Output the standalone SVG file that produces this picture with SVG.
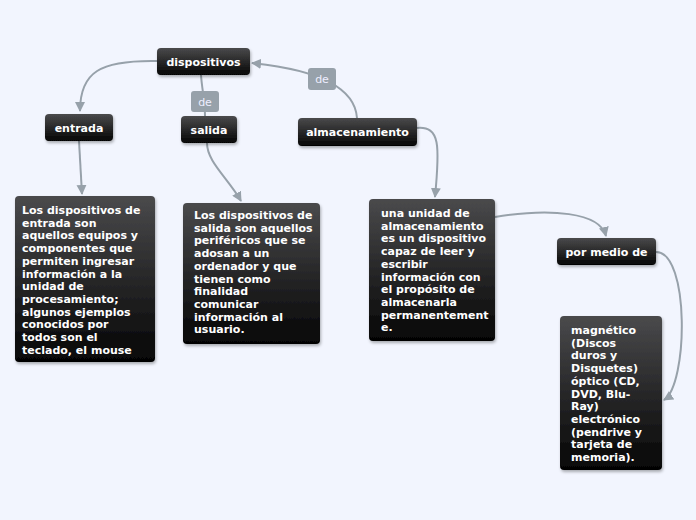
<svg xmlns="http://www.w3.org/2000/svg" width="696" height="520" viewBox="0 0 696 520">
<defs>
<linearGradient id="g" x1="0" y1="0" x2="0" y2="1"><stop offset="0" stop-color="#4a4a4c"/><stop offset="1" stop-color="#050505"/></linearGradient>
<filter id="s" x="-10%" y="-10%" width="130%" height="140%"><feDropShadow dx="1" dy="2" stdDeviation="1.5" flood-color="#000" flood-opacity="0.3"/></filter>
<marker id="a" viewBox="0 0 10 10" refX="9" refY="5" markerWidth="5" markerHeight="5" orient="auto"><path d="M0,0 L10,5 L0,10 z" fill="#97a1aa"/></marker>
</defs>
<style>
rect.n{fill:url(#g);filter:url(#s)}
text{font-family:"DejaVu Sans",sans-serif;font-weight:bold;font-size:11px;fill:#fff}
.c{fill:none;stroke:#97a1aa;stroke-width:2}
.l{fill:#97a1aa}
.lt{font-weight:normal;fill:#eef;font-size:11px}
</style>
<rect width="696" height="520" fill="#f2f5fe"/>
<g id="connectors">
<path class="c" d="M157,61 C100,60 80,72 80,111" marker-end="url(#a)"/>
<path class="c" d="M79,141 L82,194" marker-end="url(#a)"/>
<path class="c" d="M201,75 C202,90 205,100 205,116"/>
<path class="c" d="M207,143 C207,162 228,178 241,201" marker-end="url(#a)"/>
<path class="c" d="M357,118 C355,88 320,70 252,63" marker-end="url(#a)"/>
<path class="c" d="M417,128 C440,126 440,145 435,197" marker-end="url(#a)"/>
<path class="c" d="M495,217 C550,208 600,212 606,236" marker-end="url(#a)"/>
<path class="c" d="M656,252 C690,252 688,385 664,400" marker-end="url(#a)"/>
<rect class="l" x="191" y="91" width="28" height="21" rx="3"/>
<text class="lt" x="205" y="106" text-anchor="middle">de</text>
<rect class="l" x="308" y="68" width="28" height="22" rx="3"/>
<text class="lt" x="322" y="83" text-anchor="middle">de</text>
</g>
<g id="dispositivos"><rect class="n" x="157" y="48" width="93" height="27" rx="4"/><text x="203.5" y="66" text-anchor="middle">dispositivos</text></g>
<g id="entrada"><rect class="n" x="45" y="114" width="68" height="27" rx="4"/><text x="79" y="132" text-anchor="middle">entrada</text></g>
<g id="salida"><rect class="n" x="181" y="116" width="56" height="27" rx="4"/><text x="209" y="134" text-anchor="middle">salida</text></g>
<g id="almacenamiento"><rect class="n" x="298" y="118" width="119" height="28" rx="4"/><text x="357.5" y="136" text-anchor="middle">almacenamiento</text></g>
<g id="entrada-desc"><rect class="n" x="15" y="196" width="140" height="166" rx="4"/>
<text x="22" y="214"><tspan x="22">Los dispositivos de</tspan><tspan x="22" dy="12.7">entrada son</tspan><tspan x="22" dy="12.7">aquellos equipos y</tspan><tspan x="22" dy="12.7">componentes que</tspan><tspan x="22" dy="12.7">permiten ingresar</tspan><tspan x="22" dy="12.7">información a la</tspan><tspan x="22" dy="12.7">unidad de</tspan><tspan x="22" dy="12.7">procesamiento;</tspan><tspan x="22" dy="12.7">algunos ejemplos</tspan><tspan x="22" dy="12.7">conocidos por</tspan><tspan x="22" dy="12.7">todos son el</tspan><tspan x="22" dy="12.7">teclado, el mouse</tspan></text></g>
<g id="salida-desc"><rect class="n" x="183" y="203" width="137" height="141" rx="4"/>
<text x="194" y="219"><tspan x="194">Los dispositivos de</tspan><tspan x="194" dy="12.7">salida son aquellos</tspan><tspan x="194" dy="12.7">periféricos que se</tspan><tspan x="194" dy="12.7">adosan a un</tspan><tspan x="194" dy="12.7">ordenador y que</tspan><tspan x="194" dy="12.7">tienen como</tspan><tspan x="194" dy="12.7">finalidad</tspan><tspan x="194" dy="12.7">comunicar</tspan><tspan x="194" dy="12.7">información al</tspan><tspan x="194" dy="12.7">usuario.</tspan></text></g>
<g id="almacenamiento-desc"><rect class="n" x="369" y="199" width="126" height="142" rx="4"/>
<text x="381" y="217"><tspan x="381">una unidad de</tspan><tspan x="381" dy="12.7">almacenamiento</tspan><tspan x="381" dy="12.7">es un dispositivo</tspan><tspan x="381" dy="12.7">capaz de leer y</tspan><tspan x="381" dy="12.7">escribir</tspan><tspan x="381" dy="12.7">información con</tspan><tspan x="381" dy="12.7">el propósito de</tspan><tspan x="381" dy="12.7">almacenarla</tspan><tspan x="381" dy="12.7">permanentement</tspan><tspan x="381" dy="12.7">e.</tspan></text></g>
<g id="por-medio-de"><rect class="n" x="557" y="238" width="99" height="27" rx="4"/><text x="606.5" y="256" text-anchor="middle">por medio de</text></g>
<g id="tipos"><rect class="n" x="560" y="316" width="102" height="154" rx="4"/>
<text x="571" y="334"><tspan x="571">magnético</tspan><tspan x="571" dy="12.7">(Discos</tspan><tspan x="571" dy="12.7">duros y</tspan><tspan x="571" dy="12.7">Disquetes)</tspan><tspan x="571" dy="12.7">óptico (CD,</tspan><tspan x="571" dy="12.7">DVD, Blu-</tspan><tspan x="571" dy="12.7">Ray)</tspan><tspan x="571" dy="12.7">electrónico</tspan><tspan x="571" dy="12.7">(pendrive y</tspan><tspan x="571" dy="12.7">tarjeta de</tspan><tspan x="571" dy="12.7">memoria).</tspan></text></g>
</svg>
